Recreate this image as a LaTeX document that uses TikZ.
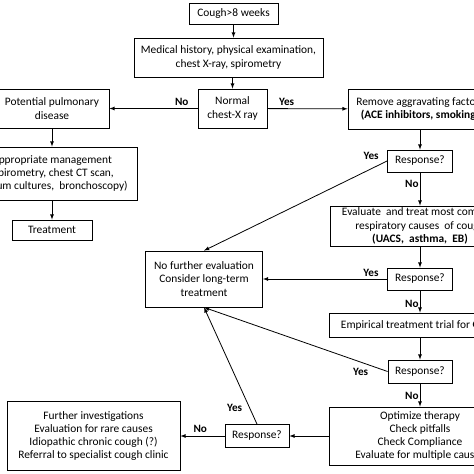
\documentclass[tikz,border=0pt]{standalone}
\usepackage{fontspec}
\setmainfont{Carlito}
\usetikzlibrary{arrows}

\begin{document}
\begin{tikzpicture}[x=1pt, y=-1pt,
		box/.style={draw, line width=0.8pt, align=center, inner sep=1pt, font=\fontsize{11.4}{13.3}\selectfont},
		resp/.style={box, minimum width=65pt, minimum height=22pt},
		ans/.style={font=\fontsize{11.2}{12}\selectfont\bfseries, inner sep=1pt}]
	\clip (0,0) rectangle (474,474);
	% left and middle column
	\node[box, minimum width=89pt, minimum height=21pt] (cough) at (233.5,13.5) {Cough>8 weeks};
	\node[box, minimum width=189pt, minimum height=39pt] (history) at (228.5,57.5) {Medical history, physical examination,\\ chest X-ray, spirometry};
	\node[box, minimum width=69pt, minimum height=39pt] (xray) at (232.5,108.5) {Normal\\ chest-X ray};
	\node[box, minimum width=114pt, minimum height=39pt] (pulm) at (52,108.5) {Potential pulmonary\\ disease};
	\node[box, minimum width=170pt, minimum height=53pt] (manage) at (52,173.5) {Appropriate management\\ (spirometry, chest CT scan,\\ sputum cultures,~ bronchoscopy)};
	\node[box, minimum width=80pt, minimum height=20pt] (treat) at (52,230) {Treatment};
	\node[box, minimum width=117pt, minimum height=56pt] (nofurther) at (204,279) {No further evaluation\\ Consider long-term\\ treatment};
	\node[box, minimum width=173pt, minimum height=69pt] (further) at (93.5,436) {Further investigations\\ Evaluation for rare causes\\ Idiopathic chronic cough (?)\\ Referral to specialist cough clinic};
	\node[resp, minimum width=64pt, minimum height=23pt] (resp4) at (257,436) {Response?};
	% right column
	\node[box, minimum width=144pt, minimum height=40pt] (remove) at (420,109) {Remove aggravating factors\\ \textbf{(ACE inhibitors, smoking)}};
	\node[resp] (resp1) at (420,161) {Response?};
	\node[box, minimum width=180pt, minimum height=40pt] (causes) at (420,226) {Evaluate~ and treat most common\\ respiratory causes~ of cough\\ \textbf{(UACS,~ asthma,~ EB)}};
	\node[resp] (resp2) at (420,279) {Response?};
	\node[box, minimum width=182pt, minimum height=24pt] (gerd) at (420,325) {Empirical treatment trial for \textbf{GERD}};
	\node[resp, minimum width=64pt, minimum height=23pt] (resp3) at (420,371.5) {Response?};
	\node[box, minimum width=182pt, minimum height=58pt] (optim) at (420,436) {Optimize therapy\\ Check pitfalls\\ Check Compliance\\ Evaluate for multiple causes};

	\path[-latex, line width=0.8pt]
	(cough.south) edge (cough.south |- history.north)
	(xray.north |- history.south) edge (xray.north)
	(xray) edge node[ans, above=2pt, pos=0.18]{No} (pulm) edge node[ans, above=2pt, pos=0.24]{Yes} (remove)
	(pulm) edge (manage)
	(manage) edge (treat)
	(remove) edge (resp1)
	(resp1) edge node[ans, left, pos=0.35]{No} (causes)
	(resp1.west) edge node[ans, at start, anchor=south east, xshift=-7pt]{Yes} (nofurther.north)
	(causes) edge (resp2)
	(resp2) edge node[ans, above=1pt, pos=0.13]{Yes} (nofurther) edge node[ans, left, pos=0.6]{No} (gerd)
	(gerd) edge (resp3)
	(resp3.west) edge node[ans, at start, anchor=east, xshift=-18pt]{Yes} (nofurther.south)
	(resp3) edge node[ans, left, pos=0.55]{No} (optim)
	(optim) edge (resp4)
	(resp4.north) edge node[ans, left=6pt, pos=0.14]{Yes} (nofurther.south)
	(resp4) edge node[ans, above=2pt, pos=0.55]{No} (further);
\end{tikzpicture}
\end{document}
